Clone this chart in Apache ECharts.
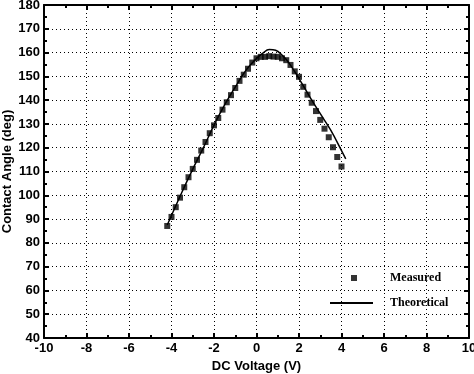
<!DOCTYPE html>
<html><head><meta charset="utf-8">
<script src="https://cdn.jsdelivr.net/npm/echarts@6/dist/echarts.min.js"></script>
<style>html,body{margin:0;padding:0;background:#fff}#c{width:474px;height:374px}</style>
</head><body><div id="c"></div>
<script>
var measuredX = [-4.2,-4.0,-3.8,-3.6,-3.4,-3.2,-3.0,-2.8,-2.6,-2.4,-2.2,-2.0,-1.8,-1.6,-1.4,-1.2,-1.0,-0.8,-0.6,-0.4,-0.2,0.0,0.2,0.4,0.6,0.8,1.0,1.2,1.4,1.6,1.8,2.0,2.2,2.4,2.6,2.8,3.0,3.2,3.4,3.6,3.8,4.0];
var measuredY = [87.1,90.9,95.0,99.0,103.4,107.6,111.1,114.9,118.8,122.4,126.1,129.4,132.5,136.0,139.1,142.1,145.1,148.1,150.7,153.2,155.8,157.6,158.2,158.2,158.5,158.3,158.2,157.6,156.8,154.8,152.1,149.8,145.6,142.3,138.9,135.4,131.7,128.0,124.4,120.2,116.1,112.1];
var theoryX = [-4.2,-3.5,-3.0,-2.5,-2.0,-1.5,-1.0,-0.5,0.0,0.3,0.6,0.9,1.2,1.5,1.9,2.5,3.0,3.5,4.0,4.2];
var theoryY = [87.5,101.5,111.0,120.0,129.5,138.0,145.5,152.5,157.5,159.8,161.3,161.0,159.0,156.0,150.5,141.5,134.3,127.3,118.8,115.3];
var xTicks = [-10,-8,-6,-4,-2,0,2,4,6,8,10];
var yTicks = [40,50,60,70,80,90,100,110,120,130,140,150,160,170,180];

function zip(a,b){return a.map(function(v,i){return [v,b[i]];});}
var chart = echarts.init(document.getElementById('c'), null, {renderer:'canvas'});
var tickFont = "'Liberation Sans Narrow','Liberation Sans',sans-serif";
var labelFont = {fontFamily:tickFont, fontWeight:'bold', fontSize:13, color:'#000'};
var split = {show:true, lineStyle:{color:'#000', width:1, type:[1,3]}};
var legendText = {fontFamily:'Liberation Serif', fontWeight:'bold', fontSize:12, color:'#000'};
function frameAxis(pos){
  return {
    axisLine:{show:true, onZero:false, lineStyle:{color:'#000', width:2}},
    axisTick:{show:true, inside:true, length:5, lineStyle:{color:'#000', width:2}},
    minorTick:{show:true, splitNumber:2, length:3, lineStyle:{color:'#000', width:2}}
  };
}
chart.setOption({
  animation:false,
  backgroundColor:'#fff',
  grid:{left:44, right:5, top:5, bottom:36, containLabel:false, outerBoundsMode:'none'},
  legend:[{
    left:346, top:267, itemWidth:6, itemHeight:6, icon:'rect',
    textStyle:Object.assign({padding:[0,0,0,28]}, legendText),
    data:[{name:'Measured', itemStyle:{color:'#000'}}]
  },{
    left:325, top:292, itemWidth:43, itemHeight:2, icon:'rect',
    textStyle:Object.assign({padding:[0,0,0,12]}, legendText),
    data:[{name:'Theoretical', itemStyle:{color:'#000'}}]
  }],
  xAxis:[Object.assign({
    type:'value', min:-10, max:10, interval:2, position:'bottom',
    name:'DC Voltage (V)', nameLocation:'middle', nameGap:22, nameMoveOverlap:false,
    nameTextStyle:{fontFamily:'Liberation Sans', fontWeight:'bold', fontSize:13, color:'#000'},
    axisLabel:Object.assign({margin:4}, labelFont),
    splitLine:split
  }, frameAxis()),Object.assign({
    type:'value', min:-10, max:10, interval:2, position:'top',
    axisLabel:{show:false}, splitLine:{show:false}
  }, frameAxis())],
  yAxis:[Object.assign({
    type:'value', min:40, max:180, interval:10, position:'left',
    name:'Contact Angle (deg)', nameLocation:'middle', nameGap:30, nameRotate:90, nameMoveOverlap:false,
    nameTextStyle:{fontFamily:'Liberation Sans', fontWeight:'bold', fontSize:13, color:'#000'},
    axisLabel:Object.assign({margin:4}, labelFont),
    splitLine:split
  }, frameAxis()),Object.assign({
    type:'value', min:40, max:180, interval:10, position:'right',
    axisLabel:{show:false}, splitLine:{show:false}
  }, frameAxis())],
  series:[{
    name:'Theoretical', type:'line', smooth:0.4, showSymbol:false, symbol:'none',
    data:zip(theoryX, theoryY), lineStyle:{color:'#000', width:1.5}, itemStyle:{color:'#000'}, z:2
  },{
    name:'Measured', type:'scatter', symbol:'rect', symbolSize:6,
    data:zip(measuredX, measuredY), itemStyle:{color:'#000'}, z:3
  }]
});
</script></body></html>
